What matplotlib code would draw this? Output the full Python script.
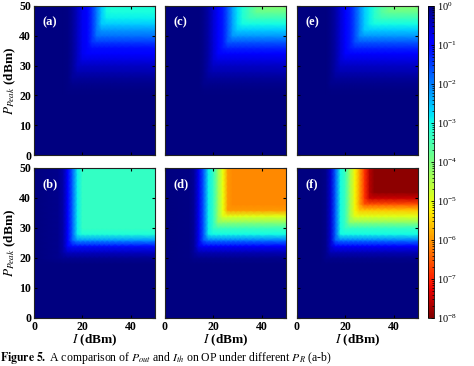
import numpy as np
import matplotlib
matplotlib.use("Agg")
import matplotlib.pyplot as plt
from matplotlib.colors import LogNorm

plt.rcParams['font.family'] = 'serif'
plt.rcParams['font.serif'] = ['Liberation Serif', 'DejaVu Serif']
plt.rcParams['mathtext.fontset'] = 'stix'

I_pts = [0, 10, 12, 14, 16, 18, 20, 22, 24, 26, 28, 30, 32, 35, 38, 42, 50]
P_pts = [0, 18, 20, 22, 24, 26, 28, 30, 32, 34, 36, 38, 40, 42, 44, 46, 48, 50]

# log10(OP) along I (top edge) and along P_peak (right edge) for each panel
logI_a = [0, 0, 0, -0.05, -0.2, -0.5, -0.8, -1.0, -1.4, -2.0, -2.6, -3.0, -3.1, -3.1, -3.1, -3.1, -3.1]
logP_a = [0, 0, 0, -0.05, -0.1, -0.2, -0.35, -0.5, -0.7, -0.9, -1.1, -1.5, -1.9, -2.2, -2.6, -2.9, -3.05, -3.1]

logI_b = [0, -0.1, -0.3, -0.9, -1.8, -2.9, -3.3, -3.3, -3.3, -3.3, -3.3, -3.3, -3.3, -3.3, -3.3, -3.3, -3.3]
logP_b = [0, 0, -0.15, -0.5, -1.1, -2.2, -3.1, -3.3, -3.3, -3.3, -3.3, -3.3, -3.3, -3.3, -3.3, -3.3, -3.3, -3.3]

logI_c = [0, 0, 0, 0, -0.1, -0.3, -0.6, -0.9, -1.2, -1.7, -2.3, -2.8, -3.1, -3.5, -3.9, -4.1, -4.1]
logP_c = [0, 0, 0, -0.05, -0.1, -0.2, -0.35, -0.5, -0.7, -1.0, -1.3, -1.7, -2.2, -2.6, -3.0, -3.4, -3.8, -4.1]

logI_d = [0, -0.05, -0.2, -0.8, -1.7, -2.9, -3.3, -4.3, -5.1, -6.0, -6.1, -6.1, -6.1, -6.1, -6.1, -6.1, -6.1]
logP_d = [0, 0, -0.1, -0.4, -1.0, -2.0, -3.0, -3.4, -4.2, -5.0, -6.0, -6.1, -6.1, -6.1, -6.1, -6.1, -6.1, -6.1]

logI_e = [0, 0, 0, -0.1, -0.3, -0.6, -0.9, -1.2, -1.6, -2.1, -2.6, -2.9, -3.2, -3.6, -3.9, -4.1, -4.1]
logP_e = [0, 0, 0, -0.05, -0.1, -0.2, -0.35, -0.5, -0.7, -1.0, -1.3, -1.7, -2.2, -2.6, -3.0, -3.4, -3.8, -4.1]

logI_f = [0, 0, -0.1, -0.6, -1.8, -3.0, -3.4, -4.4, -5.2, -6.0, -6.9, -7.6, -7.9, -7.9, -7.9, -7.9, -7.9]
logP_f = [0, 0, -0.1, -0.4, -1.0, -2.0, -3.0, -3.3, -4.2, -5.0, -5.6, -6.6, -7.5, -7.9, -7.9, -7.9, -7.9, -7.9]

panels = [
    ('(a)', logI_a, logP_a), ('(c)', logI_c, logP_c), ('(e)', logI_e, logP_e),
    ('(b)', logI_b, logP_b), ('(d)', logI_d, logP_d), ('(f)', logI_f, logP_f),
]

fig = plt.figure(figsize=(4.74, 3.66), dpi=100)
W, H = 474.0, 366.0
lefts = [34, 165, 297]
rows = [(6, 155), (168, 318)]

norm = LogNorm(vmin=1e-8, vmax=1)
mesh = None
for k, (lab, li, lp) in enumerate(panels):
    r, c = divmod(k, 3)
    y0, y1 = rows[r]
    x0 = lefts[c]
    ax = fig.add_axes([x0 / W, 1 - y1 / H, 121 / W, (y1 - y0) / H])
    Z = np.maximum.outer(np.array(lp), np.array(li))
    mesh = ax.pcolormesh(I_pts, P_pts, 10.0 ** Z, shading='gouraud', cmap='jet_r', norm=norm)
    ax.set_xlim(0, 50)
    ax.set_ylim(0, 50)
    ax.set_xticks([0, 20, 40])
    ax.set_yticks([0, 10, 20, 30, 40, 50])
    ax.tick_params(direction='in', length=2, width=0.8, top=True, right=True,
                   labelsize=8.5, pad=2)
    for t in ax.get_xticklabels() + ax.get_yticklabels():
        t.set_fontweight('bold')
    for s in ax.spines.values():
        s.set_linewidth(0.8)
        s.set_color('#222222')
    if r == 0:
        ax.tick_params(labelbottom=False)
    else:
        ax.set_xlabel(r'$\mathit{I}$ (dBm)', fontsize=9.5, fontweight='bold', labelpad=0)
    if c != 0:
        ax.tick_params(labelleft=False)
    else:
        ax.set_ylabel(r'$P_{Peak}$ (dBm)', fontsize=9.5, fontweight='bold', labelpad=1)
    ax.text(0.07, 0.93, lab, transform=ax.transAxes, color='white', fontsize=9,
            fontweight='bold', va='top', ha='left')

cax = fig.add_axes([428 / W, 1 - 318 / H, 6 / W, 312 / H])
cb = fig.colorbar(mesh, cax=cax)
cb.set_ticks([10.0 ** e for e in range(-8, 1)])
cb.minorticks_on()
cax.tick_params(which='major', direction='in', length=2, width=0.6, labelsize=7.5, pad=2)
cax.tick_params(which='minor', direction='in', length=1.2, width=0.5)
cb.outline.set_linewidth(0.6)

fig.text(0.0, 0.5 / H, r'$\mathbf{Figure\ 5.}$ A comparison of $P_{out}$ and $I_{th}$ on OP under different $P_R$ (a-b)',
         fontsize=8.5, va='bottom', ha='left')

fig.savefig('out.png', dpi=100)
